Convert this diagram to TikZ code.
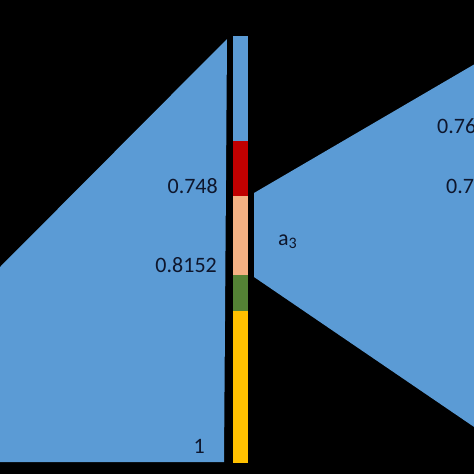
\documentclass[tikz,border=0pt]{standalone}
\usepackage{fontspec}
\setmainfont{Carlito}
\definecolor{pblue}{HTML}{5B9BD5}
\definecolor{pred}{HTML}{C00000}
\definecolor{ppeach}{HTML}{F4B183}
\definecolor{pgreen}{HTML}{548235}
\definecolor{pyellow}{HTML}{FFC000}
\definecolor{ptext}{RGB}{14,22,44}
\tikzset{
  lbl/.style={inner sep=0pt, text=ptext, font=\fontsize{22}{22}\selectfont},
  seg/.style={draw=none}
}
\begin{document}
\begin{tikzpicture}[x=1pt,y=-1pt]
\useasboundingbox (0,0) rectangle (474,474);
\fill[black] (0,0) rectangle (474,474);
\clip (0,0) rectangle (474,474);
% left shape
\fill[pblue] (0,267) -- (227,39) -- (224,462) -- (0,462) -- cycle;
% right shape
\fill[pblue] (254,193) -- (480,61) -- (480,431) -- (254,277) -- cycle;
% bar
\fill[seg,pblue] (233,36) rectangle (248,141);
\fill[seg,pred] (233,141) rectangle (248,196);
\fill[seg,ppeach] (233,196) rectangle (248,275);
\fill[seg,pgreen] (233,275) rectangle (248,311);
\fill[seg,pyellow] (233,311) rectangle (248,463);
% labels
\node[lbl,anchor=base east] (l748) at (218,193) {0.748};
\node[lbl,anchor=base east] (l8152) at (217,272) {0.8152};
\node[lbl,anchor=base east] (lone) at (205,453) {1};
\node[lbl,anchor=base west] (la3) at (278,245) {a\raisebox{-0.3ex}{\fontsize{16}{16}\selectfont 3}};
\node[lbl,anchor=base west] (l76) at (437,133) {0.76};
\node[lbl,anchor=base west] (l7) at (446,193) {0.7};
\end{tikzpicture}
\end{document}
